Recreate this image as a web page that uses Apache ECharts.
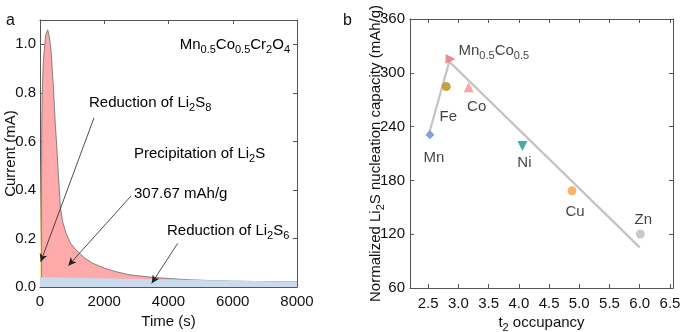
<!DOCTYPE html>
<html>
<head>
<meta charset="utf-8">
<script src="https://cdn.jsdelivr.net/npm/echarts@6/dist/echarts.min.js"></script>
<style>
  html, body { margin: 0; padding: 0; background: #fff; }
  #chart { width: 685px; height: 332px; }
</style>
</head>
<body>
<div id="chart"></div>
<script>
// panel a: chronoamperometry curve
var curveT = [50, 50, 55, 70, 100, 135, 180, 240, 290, 342, 425, 477, 520, 570, 633, 705, 810, 950, 1120, 1400, 1640, 2000, 2366, 2800, 3400, 4000, 4600, 5200, 6000, 7000, 8000];
var curveI = [0, 0.5, 0.67, 0.80, 0.92, 0.98, 1.04, 1.06, 1.03, 0.977, 0.805, 0.668, 0.585, 0.47, 0.33, 0.27, 0.221, 0.18, 0.153, 0.118, 0.098, 0.078, 0.063, 0.050, 0.041, 0.035, 0.030, 0.027, 0.024, 0.022, 0.021];
var s8T = [0, 45];
var s8I = [0.55, 0.55];
var s6T = [0, 8000];
var s6I = [0.040, 0.022];
var currentTicks = [0, 0.2, 0.4, 0.6, 0.8, 1.0];

// panel b: nucleation capacity vs t2 occupancy
var metals = ['Mn', 'Fe', 'Mn0.5Co0.5', 'Co', 'Ni', 'Cu', 'Zn'];
var t2Occ = [2.53, 2.80, 2.87, 3.17, 4.06, 4.88, 6.01];
var capacity = [231, 284.6, 315.4, 283.9, 218.5, 168.4, 120.1];
var trendX = [2.52, 2.85, 6.0];
var trendY = [233.4, 312.5, 105.3];
var occTicks = [2.5, 3.0, 3.5, 4.0, 4.5, 5.0, 5.5, 6.0, 6.5];

var font = 'Liberation Sans, Arial, sans-serif';
var frame = '#555';
var fs = 15;

// marker styles per metal
var symbols = ['diamond', 'circle', 'triangle', 'triangle', 'triangle', 'circle', 'circle'];
var rotates = [0, 0, -90, 0, 180, 0, 0];
var colors = ['#5b8fd4', '#bd8c10', '#e07474', '#ff8e8e', '#17979a', '#f99d3e', '#bcbcbc'];
var labelOffsets = [[4, 23], [2, 30], [-2, -8], [8, 20], [2, 17], [3, 21], [3, -14]];
var labelTexts = ['Mn', 'Fe', '{n|Mn}{s|0.5}{n|Co}{s|0.5}', 'Co', 'Ni', 'Cu', 'Zn'];

var rich = {
    n: { fontSize: fs, lineHeight: 20, fontFamily: font, color: '#111' },
    s: { fontSize: 11, lineHeight: 11, padding: [10, 0, 0, 0], verticalAlign: 'bottom', fontFamily: font, color: '#111' }
};

function pairs(xs, ys) {
    return xs.map(function (x, i) { return [x, ys[i]]; });
}

var scatterData = metals.map(function (m, i) {
    return {
        name: m,
        value: [t2Occ[i], capacity[i]],
        symbol: symbols[i],
        symbolRotate: rotates[i],
        symbolSize: symbols[i] === 'triangle' ? 10 : 9,
        itemStyle: { color: colors[i] },
        label: {
            show: true,
            formatter: labelTexts[i],
            position: i === 2 ? 'right' : 'inside',
            offset: labelOffsets[i],
            fontSize: fs,
            color: '#111',
            fontFamily: font,
            rich: rich
        }
    };
});

function frameAxis(base) {
    var ax = {
        nameMoveOverlap: false,
        axisLine: { show: true, onZero: false, lineStyle: { color: frame, width: 1 } },
        axisTick: { show: true, inside: true, length: 4, lineStyle: { color: frame } },
        splitLine: { show: false },
        axisLabel: { show: false }
    };
    for (var k in base) ax[k] = base[k];
    return ax;
}

var labelStyle = { show: true, fontSize: fs, color: '#111', fontFamily: font };
var nameStyle = { fontSize: fs, color: '#111', fontFamily: font, rich: rich };

var chart = echarts.init(document.getElementById('chart'), null, { renderer: 'canvas' });
var option = {
    animation: false,
    textStyle: { fontFamily: font },
    grid: [
        { left: 40, right: 388, top: 20, bottom: 45, outerBoundsMode: 'none', containLabel: false },
        { left: 410, right: 12, top: 19, bottom: 44, outerBoundsMode: 'none', containLabel: false }
    ],
    xAxis: [
        frameAxis({
            type: 'value', gridIndex: 0, min: 0, max: 8000, interval: 2000, position: 'bottom',
            name: 'Time (s)', nameLocation: 'middle', nameGap: 27, nameTextStyle: nameStyle,
            axisLabel: Object.assign({ margin: 7, formatter: function (v) { return String(v); } }, labelStyle)
        }),
        frameAxis({ type: 'value', gridIndex: 0, min: 0, max: 8000, interval: 2000, position: 'top' }),
        frameAxis({
            type: 'value', gridIndex: 1, min: 2.2, max: 6.55, position: 'bottom',
            name: '{n|t}{s|2}{n| occupancy}', nameLocation: 'middle', nameGap: 25, nameTextStyle: nameStyle,
            axisTick: { show: true, inside: true, length: 4, lineStyle: { color: frame }, customValues: occTicks },
            axisLabel: Object.assign({ margin: 8, customValues: occTicks, formatter: function (v) { return v.toFixed(1); } }, labelStyle)
        }),
        frameAxis({
            type: 'value', gridIndex: 1, min: 2.2, max: 6.55, position: 'top',
            axisTick: { show: true, inside: true, length: 4, lineStyle: { color: frame }, customValues: occTicks }
        })
    ],
    yAxis: [
        frameAxis({
            type: 'value', gridIndex: 0, min: 0, max: 1.1, position: 'left',
            name: 'Current (mA)', nameLocation: 'middle', nameGap: 22, nameTextStyle: nameStyle,
            axisTick: { show: true, inside: true, length: 4, lineStyle: { color: frame }, customValues: currentTicks },
            axisLabel: Object.assign({ margin: 4, customValues: currentTicks, formatter: function (v) { return v.toFixed(1); } }, labelStyle)
        }),
        frameAxis({
            type: 'value', gridIndex: 0, min: 0, max: 1.1, position: 'right',
            axisTick: { show: true, inside: true, length: 4, lineStyle: { color: frame }, customValues: currentTicks }
        }),
        frameAxis({
            type: 'value', gridIndex: 1, min: 60, max: 360, interval: 60, position: 'left',
            name: '{n|Normalized Li}{s|2}{n|S nucleation capacity (mAh/g)}', nameLocation: 'middle', nameGap: 24,
            nameTextStyle: nameStyle,
            axisLabel: Object.assign({ margin: 5 }, labelStyle)
        }),
        frameAxis({ type: 'value', gridIndex: 1, min: 60, max: 360, interval: 60, position: 'right' })
    ],
    series: [
        {
            name: 'Li2S8', type: 'line', xAxisIndex: 0, yAxisIndex: 0,
            data: pairs(s8T, s8I), symbol: 'none',
            lineStyle: { width: 0 }, areaStyle: { color: '#f3e7a4', opacity: 1 }, z: 2
        },
        {
            name: 'Li2S', type: 'line', xAxisIndex: 0, yAxisIndex: 0,
            data: pairs(curveT, curveI), symbol: 'none',
            lineStyle: { color: '#6a6a6a', width: 0.8 }, areaStyle: { color: '#ffaaaa', opacity: 1 }, z: 3
        },
        {
            name: 'Li2S6', type: 'line', xAxisIndex: 0, yAxisIndex: 0,
            data: pairs(s6T, s6I), symbol: 'none',
            lineStyle: { width: 0 }, areaStyle: { color: '#c9dbec', opacity: 1 }, z: 4,
            markLine: {
                silent: true, animation: false,
                symbol: ['none', 'arrow'], symbolSize: [6, 8],
                label: { show: false },
                lineStyle: { color: '#222', width: 0.8, type: 'solid' },
                data: [
                    [{ coord: [1681, 0.697] }, { coord: [22, 0.104] }],
                    [{ coord: [2833, 0.375] }, { coord: [882, 0.088] }],
                    [{ coord: [4286, 0.18] }, { coord: [3477, 0.015] }]
                ]
            }
        },
        {
            name: 'trend', type: 'line', xAxisIndex: 2, yAxisIndex: 2,
            data: pairs(trendX, trendY), symbol: 'none',
            lineStyle: { color: '#c4c4c4', width: 2.2 }, z: 2
        },
        {
            name: 'metals', type: 'scatter', xAxisIndex: 2, yAxisIndex: 2,
            data: scatterData, z: 3
        }
    ],
    graphic: [
        { type: 'text', x: 6, y: 13, style: { text: 'a', fontSize: 16, fontFamily: font, fill: '#111' } },
        { type: 'text', x: 343, y: 13, style: { text: 'b', fontSize: 16, fontFamily: font, fill: '#111' } },
        {
            type: 'text', x: 290, y: 45, z: 10,
            style: {
                text: '{n|Mn}{s|0.5}{n|Co}{s|0.5}{n|Cr}{s|2}{n|O}{s|4}', rich: rich,
                align: 'right', verticalAlign: 'middle'
            }
        },
        {
            type: 'text', x: 89, y: 103, z: 10,
            style: { text: '{n|Reduction of Li}{s|2}{n|S}{s|8}', rich: rich, verticalAlign: 'middle' }
        },
        {
            type: 'text', x: 134, y: 154, z: 10,
            style: { text: '{n|Precipitation of Li}{s|2}{n|S}', rich: rich, verticalAlign: 'middle' }
        },
        {
            type: 'text', x: 134, y: 194, z: 10,
            style: { text: '{n|307.67 mAh/g}', rich: rich, verticalAlign: 'middle' }
        },
        {
            type: 'text', x: 167, y: 231, z: 10,
            style: { text: '{n|Reduction of Li}{s|2}{n|S}{s|6}', rich: rich, verticalAlign: 'middle' }
        }
    ]
};
chart.setOption(option);
window.addEventListener('resize', function () {
    chart.resize();
});
</script>
</body>
</html>
